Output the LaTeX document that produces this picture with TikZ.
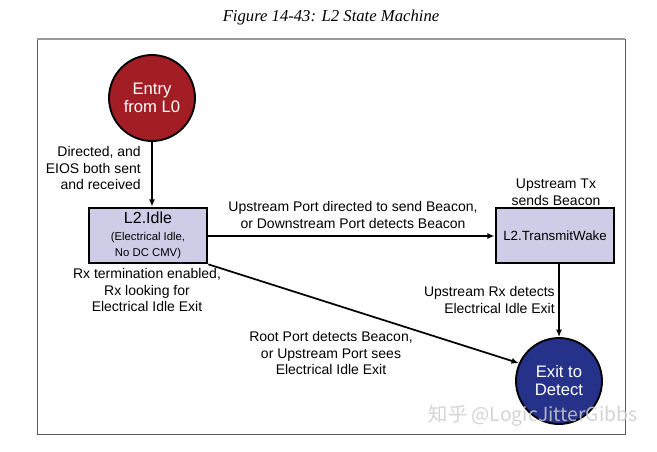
\documentclass[tikz,border=0pt]{standalone}
\usepackage{fontspec}
\setmainfont{Liberation Sans}
\newfontfamily\capfont{Liberation Serif}
\newfontfamily\cjkfont{Noto Sans CJK SC}
\usetikzlibrary{arrows.meta}
\definecolor{entryred}{HTML}{A31E24}
\definecolor{exitblue}{HTML}{26318A}
\definecolor{boxfill}{HTML}{CDCDE8}
\begin{document}
\begin{tikzpicture}[x=0.75pt,y=-0.75pt,
  lbl/.style={font=\fontsize{10.5}{12.4}\selectfont, inner sep=0pt, text=black},
  state/.style={draw=black, line width=2pt, fill=boxfill, minimum width=88.5pt, minimum height=41.25pt, inner sep=0pt, align=center},
  endpt/.style={circle, draw=black, line width=1.4pt, minimum size=64.5pt, inner sep=0pt, align=center, text=white, font=\fontsize{12.5}{13.5}\selectfont},
  conn/.style={line width=1.3pt, -{Latex[length=5.5pt,width=4.5pt]}}
]
\useasboundingbox (0,0) rectangle (657,451);
\fill[white] (0,0) rectangle (657,451);
% caption
\node[font=\capfont\itshape\fontsize{12.5}{14}\selectfont, inner sep=0pt] (cap) at (331,17) {Figure 14-43: L2 State Machine};
% frame
\draw[gray!70!black, line width=0.6pt] (37,39) rectangle (625,434);
\draw[gray!80, line width=1.6pt] (37,39) -- (625,39);
% nodes
\node[endpt, fill=entryred] (entry) at (152,98) {Entry\\from L0};
\node[state] (idle) at (148,235.5) {{\fontsize{12}{13}\selectfont L2.Idle}\\[1pt]{\fontsize{8.5}{10}\selectfont (Electrical Idle,}\\{\fontsize{8.5}{10}\selectfont No DC CMV)}};
\node[state] (tw) at (555,235.5) {\fontsize{10}{12}\selectfont L2.TransmitWake};
\node[endpt, fill=exitblue] (exit) at (559,381) {Exit to\\Detect};
% connectors
\draw[conn] (entry.south) -- (entry.south |- idle.north);
\draw[conn] (idle.east |- 0,236) -- (tw.west |- 0,236);
\draw[conn] (idle.south east) -- (exit.156);
\draw[conn] (exit.north |- tw.south) -- (exit.north);
% labels
\node[lbl, anchor=east, align=right] (l1) at (141,168) {Directed, and\\EIOS both sent\\and received};
\node[lbl, align=center] (l2) at (353,215) {Upstream Port directed to send Beacon,\\or Downstream Port detects Beacon};
\node[lbl, align=center] (l3) at (147,290) {Rx termination enabled,\\Rx looking for\\Electrical Idle Exit};
\node[lbl, align=center] (l4) at (556,192) {Upstream Tx\\sends Beacon};
\node[lbl, anchor=east, align=right] (l5) at (555,300) {Upstream Rx detects\\Electrical Idle Exit};
\node[lbl, align=center] (l6) at (331,353) {Root Port detects Beacon,\\or Upstream Port sees\\Electrical Idle Exit};
% watermark
\node[inner sep=0pt, text=gray!40, opacity=0.85, font=\cjkfont\fontsize{14.5}{16}\selectfont] (wm) at (533,416) {知乎 @LogicJitterGibbs};
\end{tikzpicture}
\end{document}
